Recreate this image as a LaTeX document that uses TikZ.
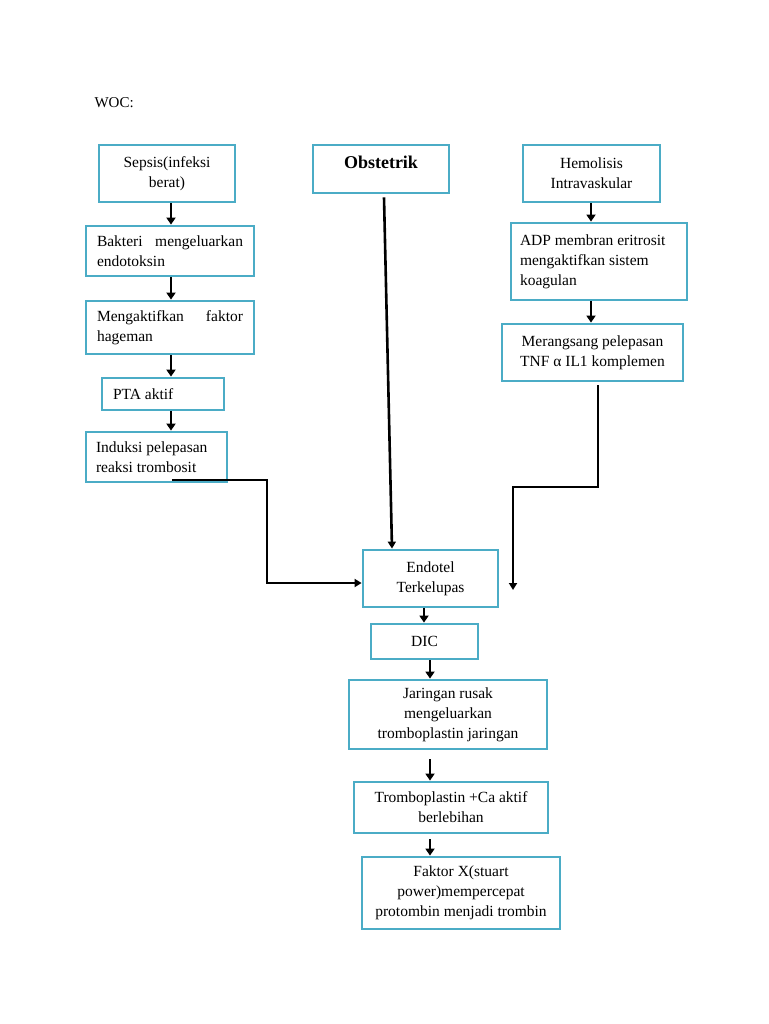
\documentclass[tikz,border=0pt]{standalone}
\usepackage{fontspec}
\setmainfont{Liberation Serif}
\usetikzlibrary{arrows.meta}
\definecolor{boxblue}{HTML}{4BACC6}
\begin{document}
\begin{tikzpicture}[x=1pt,y=-1pt,
  box/.style={draw=boxblue,line width=2.8pt,inner sep=0pt,align=center,
    font=\fontsize{15.5}{20}\selectfont},
  arr/.style={line width=2.8pt,-{Triangle[length=7pt,width=9pt]}},
  arrthin/.style={line width=2.6pt,-{Triangle[length=7pt,width=8pt]}}]
\useasboundingbox[fill=white] (0,0) rectangle (768,1024);
\node[font=\fontsize{15}{20}\selectfont,anchor=west] (woc) at (91,103) {WOC:};
% left column
\node[box,minimum width=136pt,minimum height=57pt] (sep) at (167,173.5) {Sepsis(infeksi\\berat)};
\node[box,minimum width=168pt,minimum height=50pt,align=left] (bak) at (170,251) {\makebox[146pt][s]{Bakteri mengeluarkan}\\endotoksin};
\node[box,minimum width=168pt,minimum height=53pt,align=left] (hag) at (170,327.5) {\makebox[146pt][s]{Mengaktifkan faktor}\\hageman};
\node[box,minimum width=122pt,minimum height=32pt,align=left] (pta) at (163,394) {\makebox[100pt][l]{PTA aktif}};
\node[box,minimum width=141pt,minimum height=50pt,align=left] (ind) at (156.5,457) {\makebox[121pt][l]{Induksi pelepasan}\\reaksi trombosit};
% middle top
\node[box,minimum width=136pt,minimum height=48pt] (obs) at (381,169) {\fontsize{18}{20}\selectfont\textbf{Obstetrik}\\[-6pt]\mbox{}};
% right column
\node[box,minimum width=137pt,minimum height=57pt] (hem) at (591.5,173.5) {Hemolisis\\Intravaskular};
\node[box,minimum width=176pt,minimum height=77pt,align=left] (adp) at (599,261.5) {\makebox[158pt][l]{ADP membran eritrosit}\\mengaktifkan sistem\\koagulan};
\node[box,minimum width=181pt,minimum height=57pt] (mer) at (592.5,352.5) {Merangsang pelepasan\\TNF α IL1 komplemen};
% bottom column
\node[box,minimum width=135pt,minimum height=57pt] (end) at (430.5,578.5) {Endotel\\Terkelupas};
\node[box,minimum width=107pt,minimum height=35pt] (dic) at (424.5,641.5) {DIC};
\node[box,minimum width=198pt,minimum height=69pt] (jar) at (448,714.5) {Jaringan rusak\\mengeluarkan\\tromboplastin jaringan};
\node[box,minimum width=194pt,minimum height=51pt] (tro) at (451,807.5) {Tromboplastin +Ca aktif\\berlebihan};
\node[box,minimum width=198pt,minimum height=72pt] (fak) at (461,893) {Faktor X(stuart\\power)mempercepat\\protombin menjadi trombin};
% connectors left
\draw[arr] (sep.south -| 171,0) -- (bak.north -| 171,0);
\draw[arr] (bak.south -| 171,0) -- (hag.north -| 171,0);
\draw[arr] (hag.south -| 171,0) -- (pta.north -| 171,0);
\draw[arr] (pta.south -| 171,0) -- (ind.north -| 171,0);
\coordinate (indout) at (172,480);
\draw[arrthin] (indout) -- (267,480) -- (267,583) -- (end.west |- 0,583);
% obstetrik
\draw[arrthin] (obs.south -| 384,0) ++(0,3) -- (end.north -| 392,0);
% right
\draw[arr] (hem.south -| 591,0) -- (adp.north -| 591,0);
\draw[arr] (adp.south -| 591,0) -- (mer.north -| 591,0);
\coordinate (merout) at (598,385);
\coordinate (rend) at (513,590);
\draw[arrthin] (merout) -- (598,487) -- (513,487) -- (rend);
% bottom
\draw[arr] (end.south -| 424,0) -- (dic.north -| 424,0);
\draw[arr] (dic.south -| 430,0) -- (jar.north -| 430,0);
\draw[arr] (jar.south -| 430,0) ++(0,9) -- (tro.north -| 430,0);
\draw[arr] (tro.south -| 430,0) ++(0,5) -- (fak.north -| 430,0);
\end{tikzpicture}
\end{document}
